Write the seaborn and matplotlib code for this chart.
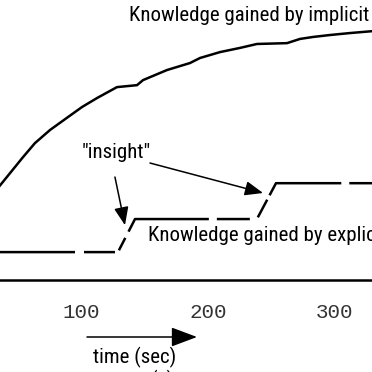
import matplotlib
matplotlib.use("Agg")
import matplotlib.pyplot as plt
import matplotlib.transforms as mtransforms
from matplotlib import font_manager
import seaborn as sns
import pandas as pd

# ---- data ----
implicit_t = [30, 40.2, 50.4, 59.8, 71.7, 85.8, 96.9, 108.7, 124.4, 140.2, 144.9,
              163.8, 181.9, 189.8, 205.5, 221.3, 234.6, 258.3, 268.5, 278.7,
              292.1, 307.9, 326]
implicit_k = [0.325, 0.382, 0.439, 0.489, 0.536, 0.582, 0.618, 0.650, 0.689, 0.696,
              0.714, 0.750, 0.775, 0.793, 0.814, 0.829, 0.843, 0.846, 0.861,
              0.868, 0.875, 0.882, 0.889]
explicit_t = [30, 125.2, 138.6, 234.6, 249.6, 330]
explicit_k = [0.10, 0.10, 0.218, 0.218, 0.346, 0.346]
tick_values = [100, 200, 300]
tick_labels = ["100", "200", "300"]

sns.set_style("white")

# pick a narrow sans font if one is installed
fonts = font_manager.fontManager.ttflist
names = {f.name for f in fonts}
chosen = None
chosen_stretch = "normal"
for cand in ["Liberation Sans Narrow", "Arial Narrow", "Roboto Condensed",
             "Open Sans Condensed", "Noto Sans Condensed", "DejaVu Sans Condensed"]:
    if cand in names:
        chosen = cand
        break
if chosen is None:
    for fam in ["Liberation Sans", "Roboto", "Noto Sans", "Open Sans", "DejaVu Sans"]:
        if any(f.name == fam and str(f.stretch) in ("condensed", "semi-condensed",
                                                    "extra-condensed", "75", "87", "62")
               for f in fonts):
            chosen = fam
            chosen_stretch = "condensed"
            break
if chosen is None:
    chosen = "Liberation Sans"
plt.rcParams["font.family"] = [chosen, "Liberation Sans", "DejaVu Sans"]
plt.rcParams["font.stretch"] = chosen_stretch
plt.rcParams["lines.scale_dashes"] = False
narrow = chosen != "Liberation Sans"
fs = 15.0 if narrow else 12.0

fig = plt.figure(figsize=(3.72, 3.72), dpi=100)
ax = fig.add_axes([0, 0.247, 1, 0.753])

df_imp = pd.DataFrame({"t": implicit_t, "k": implicit_k})
df_exp = pd.DataFrame({"t": explicit_t, "k": explicit_k})

sns.lineplot(data=df_imp, x="t", y="k", ax=ax, color="black", lw=1.8,
             sort=False, estimator=None)
dash_px = [76, 9, 31, 5, 14, 7, 88, 8, 33, 9, 20, 5, 79, 8, 100, 10]
dash_pt = [d * 0.72 for d in dash_px]
sns.lineplot(data=df_exp, x="t", y="k", ax=ax, color="black", lw=1.8,
             sort=False, estimator=None)
ax.lines[-1].set_linestyle((0, dash_pt))

ax.set_xlim(32.3, 325.2)
ax.set_ylim(0, 1)
ax.set_xlabel("")
ax.set_ylabel("")
ax.set_yticks([])
ax.set_xticks(tick_values)
ax.set_xticklabels(tick_labels, fontfamily="Liberation Mono", fontsize=15)
ax.tick_params(axis="x", direction="inout", length=11.5, width=1.8, pad=11,
               color="black", labelcolor="#333333")
offset = mtransforms.ScaledTranslation(-5 / 100, 0, fig.dpi_scale_trans)
for lab in ax.get_xticklabels():
    lab.set_transform(lab.get_transform() + offset)
for s in ["left", "top", "right"]:
    ax.spines[s].set_visible(False)
ax.spines["bottom"].set_linewidth(1.8)
ax.spines["bottom"].set_color("black")

txt_kw = dict(fontsize=fs, color="black")
ax.text(133.9, 0.946, "Knowledge gained by implicit", ha="left", va="center", **txt_kw)
ax.text(148.8, 0.161, "Knowledge gained by explicit", ha="left", va="center", **txt_kw)
ax.text(96.9, 0.457, '"insight"', ha="left", va="center", **txt_kw)

arrow_kw = dict(arrowstyle="-|>,head_length=0.55,head_width=0.22", color="black",
                lw=1.1, mutation_scale=20, shrinkA=0, shrinkB=0)
ax.annotate("", xy=(130.7, 0.196), xytext=(122.8, 0.368), arrowprops=arrow_kw)
ax.annotate("", xy=(239.4, 0.311), xytext=(150.4, 0.418), arrowprops=arrow_kw)

fig.text(135 / 372, 1 - 357 / 372, "time (sec)", ha="center", va="center", **txt_kw)
fig.text(162 / 372, 1 - 380 / 372, "(a)", ha="center", va="center", **txt_kw)
fig.patches.append(matplotlib.patches.FancyArrowPatch(
    (87 / 372, 1 - 337 / 372), (197 / 372, 1 - 337 / 372), transform=fig.transFigure,
    arrowstyle="-|>,head_length=0.8,head_width=0.3", mutation_scale=20,
    color="black", lw=1.1, shrinkA=0, shrinkB=0))

fig.savefig("out.png", dpi=100)
